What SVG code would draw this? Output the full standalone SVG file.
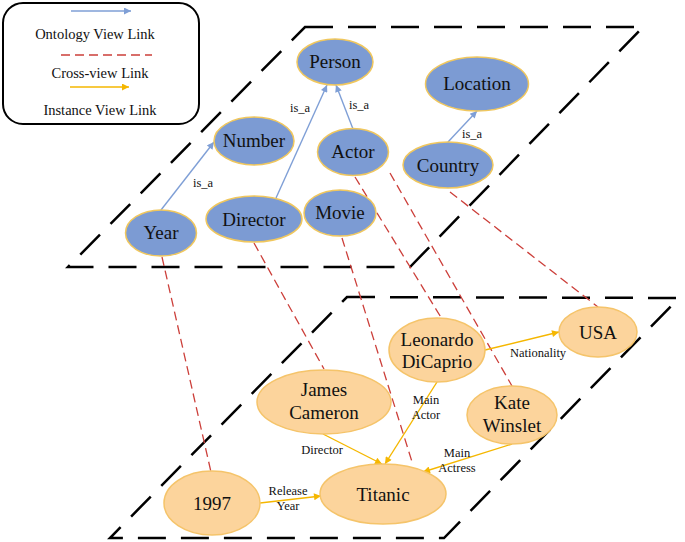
<svg xmlns="http://www.w3.org/2000/svg" width="685" height="542" viewBox="0 0 685 542">
<defs>
<style>
text{font-family:'Liberation Serif','DejaVu Serif',serif;fill:#111;text-anchor:middle}
.node{font-size:19px}
.lbl{font-size:12.5px}
.leg{font-size:14.5px}
.onto{fill:#7c9bd3;stroke:#f0c75e;stroke-width:1.5}
.inst{fill:#fcd49c;stroke:#f5c46a;stroke-width:1.5}
.plane{fill:none;stroke:#000;stroke-width:2.5;stroke-dasharray:28 15}
.blue{stroke:#7f9fd6;stroke-width:1.4;fill:none}
.yel{stroke:#f5b700;stroke-width:1.4;fill:none}
.red{stroke:#cc3f3a;stroke-width:1.3;stroke-dasharray:9 5;fill:none}
</style>
<marker id="ab" viewBox="0 0 10 10" refX="10" refY="5" markerWidth="9" markerHeight="7" markerUnits="userSpaceOnUse" orient="auto"><path d="M0,0L10,5L0,10z" fill="#7f9fd6"/></marker>
<marker id="ay" viewBox="0 0 10 10" refX="10" refY="5" markerWidth="9" markerHeight="7" markerUnits="userSpaceOnUse" orient="auto"><path d="M0,0L10,5L0,10z" fill="#f5b700"/></marker>
</defs>
<rect width="685" height="542" fill="#fff"/>

<g font-family="'Liberation Serif','DejaVu Serif',serif">
<g id="legend">
<rect x="3" y="3" width="196" height="121" rx="20" fill="#fff" stroke="#000" stroke-width="2"/>
<line class="blue" x1="71" y1="11" x2="131" y2="11" marker-end="url(#ab)"/>
<text class="leg" x="95" y="39">Ontology View Link</text>
<line class="red" x1="61" y1="55" x2="152" y2="55"/>
<text class="leg" x="100" y="78">Cross-view Link</text>
<line class="yel" x1="70" y1="87" x2="129" y2="87" marker-end="url(#ay)"/>
<text class="leg" x="100" y="115">Instance View Link</text>
</g>

<g id="planes">
<polygon class="plane" points="305,27 643,27 410,267 68,267"/>
<polygon class="plane" points="347,297 679,298 444,538 110,538"/>
</g>

<g id="connectors">
<line class="red" x1="162" y1="257" x2="211" y2="472"/>
<line class="red" x1="254" y1="243" x2="324" y2="369"/>
<line class="red" x1="342" y1="238" x2="413" y2="465"/>
<line class="red" x1="355" y1="177" x2="442" y2="319"/>
<line class="red" x1="390" y1="173" x2="512" y2="386"/>
<line class="red" x1="450" y1="192" x2="598" y2="307"/>

<line class="blue" x1="161" y1="210" x2="214" y2="142" marker-end="url(#ab)"/>
<line class="blue" x1="276" y1="198" x2="327" y2="85" marker-end="url(#ab)"/>
<line class="blue" x1="353" y1="129" x2="336" y2="85" marker-end="url(#ab)"/>
<line class="blue" x1="448" y1="142" x2="477" y2="111" marker-end="url(#ab)"/>
<text class="lbl" x="203" y="187">is_a</text>
<text class="lbl" x="300" y="112">is_a</text>
<text class="lbl" x="359" y="109">is_a</text>
<text class="lbl" x="472" y="138">is_a</text>

<line class="yel" x1="485" y1="350" x2="559" y2="332" marker-end="url(#ay)"/>
<line class="yel" x1="323" y1="434" x2="382" y2="464" marker-end="url(#ay)"/>
<line class="yel" x1="437" y1="382" x2="385" y2="464" marker-end="url(#ay)"/>
<line class="yel" x1="512" y1="444" x2="423" y2="472" marker-end="url(#ay)"/>
<line class="yel" x1="260" y1="503" x2="321" y2="496" marker-end="url(#ay)"/>
<text class="lbl" x="538" y="357">Nationality</text>
<text class="lbl" x="322" y="454">Director</text>
<text class="lbl" x="426" y="404">Main</text>
<text class="lbl" x="426" y="419">Actor</text>
<text class="lbl" x="457" y="457">Main</text>
<text class="lbl" x="457" y="472">Actress</text>
<text class="lbl" x="288" y="495">Release</text>
<text class="lbl" x="288" y="510">Year</text>
</g>

<g id="n-person"><ellipse class="onto" cx="335" cy="62" rx="38" ry="23"/><text class="node" x="335" y="68">Person</text></g>
<g id="n-number"><ellipse class="onto" cx="254" cy="141" rx="40" ry="24"/><text class="node" x="254" y="147">Number</text></g>
<g id="n-actor"><ellipse class="onto" cx="353" cy="152" rx="35.5" ry="23.5"/><text class="node" x="353" y="158">Actor</text></g>
<g id="n-year"><ellipse class="onto" cx="161" cy="233" rx="35.5" ry="23"/><text class="node" x="161" y="239">Year</text></g>
<g id="n-director"><ellipse class="onto" cx="254" cy="219" rx="48" ry="23"/><text class="node" x="254" y="226">Director</text></g>
<g id="n-movie"><ellipse class="onto" cx="340" cy="213" rx="36" ry="23"/><text class="node" x="340" y="219">Movie</text></g>
<g id="n-location"><ellipse class="onto" cx="477" cy="84" rx="51.5" ry="27"/><text class="node" x="477" y="90">Location</text></g>
<g id="n-country"><ellipse class="onto" cx="448" cy="165" rx="45" ry="23"/><text class="node" x="448" y="172">Country</text></g>

<g id="n-usa"><ellipse class="inst" cx="598" cy="332" rx="39" ry="25"/><text class="node" x="598" y="339">USA</text></g>
<g id="n-leonardo"><ellipse class="inst" cx="437" cy="350" rx="48" ry="32"/><text class="node" x="437" y="346">Leonardo</text><text class="node" x="437" y="368">DiCaprio</text></g>
<g id="n-kate"><ellipse class="inst" cx="512" cy="415" rx="45" ry="29"/><text class="node" x="512" y="409">Kate</text><text class="node" x="512" y="432">Winslet</text></g>
<g id="n-james"><ellipse class="inst" cx="324" cy="402" rx="67" ry="32"/><text class="node" x="324" y="396">James</text><text class="node" x="324" y="419">Cameron</text></g>
<g id="n-1997"><ellipse class="inst" cx="212" cy="503" rx="48" ry="32"/><text class="node" x="212" y="510">1997</text></g>
<g id="n-titanic"><ellipse class="inst" cx="383" cy="494" rx="63" ry="30"/><text class="node" x="383" y="501">Titanic</text></g>
</g>
</svg>
